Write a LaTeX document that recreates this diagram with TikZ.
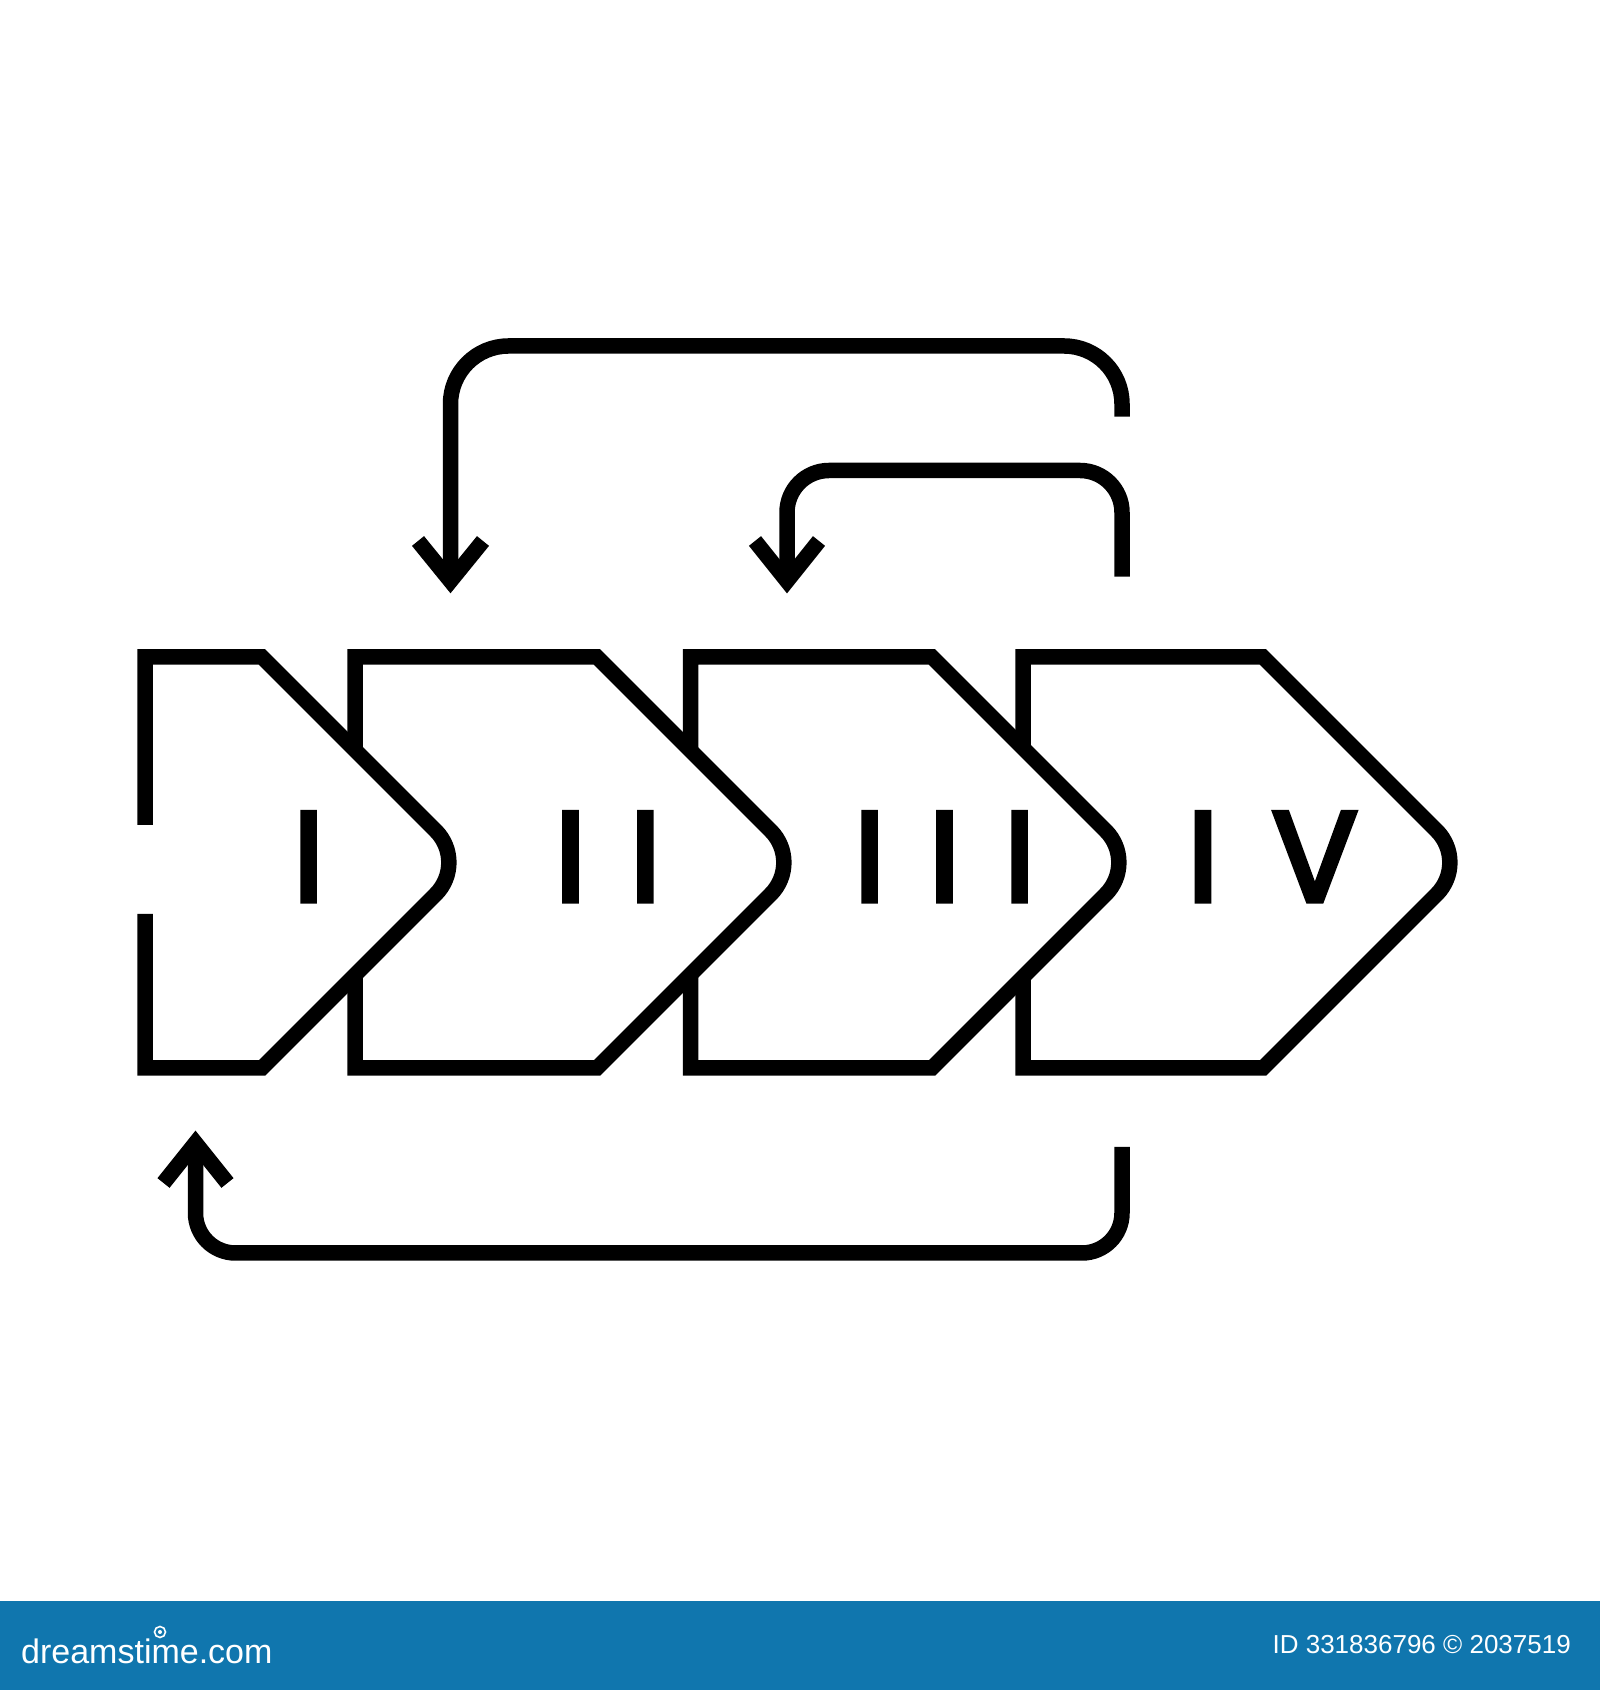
\documentclass[tikz,border=0pt]{standalone}
\usepackage{fontspec}
\setmainfont{Liberation Sans}
\newfontfamily\numfont[FakeBold=4]{Poppins}
\usepackage{graphicx}
\definecolor{bannerblue}{RGB}{16,118,174}
\newcommand\chevfill[3]{%
  \fill[white] (#1,1033) -- (#2,1033) -- ({#3-31.82},{827.5+31.82})
    arc[start angle=45,end angle=-45,radius=45] -- (#2,622) -- (#1,622) -- cycle;}
\newcommand\chevpath[3]{%
  (#1,1033) -- (#2,1033) -- ({#3-31.82},{827.5+31.82})
    arc[start angle=45,end angle=-45,radius=45] -- (#2,622) -- (#1,622) -- cycle}
\begin{document}
\begin{tikzpicture}[x=1pt,y=1pt,
  outline/.style={line width=15.5pt, line join=miter},
  conn/.style={line width=15.5pt},
  barb/.style={line width=15.5pt, line join=miter, miter limit=10},
  numeral/.style={inner sep=0pt, anchor=base, font=\numfont\fontsize{127}{127}\selectfont},
  bannertext/.style={inner sep=0pt, text=white}]
\useasboundingbox (0,0) rectangle (1600,1690);
\fill[white] (0,0) rectangle (1600,1690);

% stage IV
\chevfill{1023}{1263}{1468.5}
\draw[outline] \chevpath{1023}{1263}{1468.5};
% stage III
\chevfill{690.5}{932}{1137.5}
\draw[outline] \chevpath{690.5}{932}{1137.5};
% stage II
\chevfill{355}{597}{802.5}
\draw[outline] \chevpath{355}{597}{802.5};
% stage I (open on the left)
\chevfill{145}{262}{467.5}
\draw[outline] (145,865) -- (145,1033) -- (262,1033) -- ({467.5-31.82},{827.5+31.82})
    arc[start angle=45,end angle=-45,radius=45] -- (262,622) -- (145,622) -- (145,776);

% numerals
\node[numeral] (n1) at (308.7,789) {I};
\node[numeral] (n2) at (608,789) {\makebox[75pt]{I}\makebox[75pt]{I}};
\node[numeral] (n3) at (944.7,789) {\makebox[75pt]{I}\makebox[75pt]{I}\makebox[75pt]{I}};
\node[numeral] (n4) at (1259,789) {\makebox[112pt]{I}\makebox[112pt]{V}};

% connector end points
\coordinate (bigS) at (1122,1273.3);
\coordinate (bigE) at (450.5,1109);
\coordinate (smallS) at (1122,1113.3);
\coordinate (smallE) at (787,1109);
\coordinate (lowS) at (1122,543);
\coordinate (lowE) at (195.5,547);

% feedback loops
\draw[conn, rounded corners=58pt] (bigS) |- (450.5,1344) -- (bigE);
\draw[barb] (bigE) ++(-32.5,40) -- (bigE) -- ++(32.5,40);
\draw[conn, rounded corners=42pt] (smallS) |- (787,1219.5) -- (smallE);
\draw[barb] (smallE) ++(-32,40) -- (smallE) -- ++(32,40);
\draw[conn, rounded corners=40pt] (lowS) |- (195.5,437) -- (lowE);
\draw[barb] (lowE) ++(-32,-40) -- (lowE) -- ++(32,-40);

% banner
\fill[bannerblue] (0,0) rectangle (1600,89);
\node[bannertext, anchor=base west] (logo) at (21,27) {\fontsize{34}{34}\selectfont dreamstime.com};
\draw[white, line width=1.6pt] (160,58) circle (5.5);
\fill[white] (160,58) circle (2);
\node[bannertext, anchor=base east] (idtext) at (1571,36) {\fontsize{26}{26}\selectfont ID 331836796 © 2037519};
\end{tikzpicture}
\end{document}
